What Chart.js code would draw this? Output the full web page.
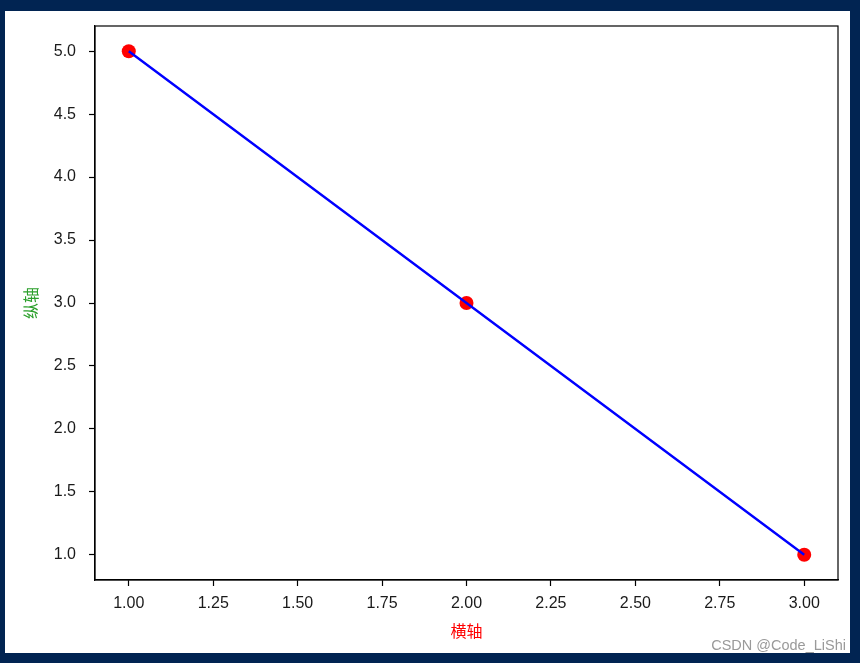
<!DOCTYPE html>
<html>
<head>
<meta charset="utf-8">
<script src="https://cdn.jsdelivr.net/npm/chart.js@4"></script>
<style>
  html, body { margin:0; padding:0; }
  body { width:860px; height:663px; background:#012452; position:relative; overflow:hidden; }
  #panel { position:absolute; left:5px; top:11px; width:845px; height:642px; background:#ffffff; }
  #wrap { position:absolute; left:0; top:0; width:860px; height:663px; }
  #mark { position:absolute; right:14px; top:637px; font-family:"Liberation Sans", Arial, sans-serif; font-size:14.5px; color:#9a9a9a; line-height:16px; }
</style>
</head>
<body>
<div id="panel"></div>
<div id="wrap"><canvas id="c" width="860" height="663"></canvas></div>
<div id="mark">CSDN @Code_LiShi</div>
<script>
const xValues = [1, 2, 3];
const yValues = [5, 3, 1];
const xTicks = [1.00, 1.25, 1.50, 1.75, 2.00, 2.25, 2.50, 2.75, 3.00];
const yTicks = [1.0, 1.5, 2.0, 2.5, 3.0, 3.5, 4.0, 4.5, 5.0];
const xTitle = '横轴';
const yTitle = '纵轴';

const points = xValues.map((x, i) => ({ x: x, y: yValues[i] }));

const frame = {
  id: 'frame',
  afterDatasetsDraw(chart) {
    const a = chart.chartArea, ctx = chart.ctx;
    ctx.save();
    ctx.strokeStyle = '#000';
    ctx.lineWidth = 1.2;
    ctx.strokeRect(a.left, a.top, a.right - a.left, a.bottom - a.top);
    ctx.restore();
  }
};

const tickFont = { family: '"Liberation Sans", Arial, sans-serif', size: 16 };

new Chart(document.getElementById('c'), {
  type: 'scatter',
  data: {
    datasets: [
      {
        type: 'line',
        data: points,
        borderColor: '#0000ff',
        borderWidth: 2.4,
        pointRadius: 0,
        fill: false,
        tension: 0,
        order: 0
      },
      {
        type: 'scatter',
        data: points,
        backgroundColor: '#ff0000',
        borderColor: '#ff0000',
        pointRadius: 7,
        borderWidth: 0,
        order: 1
      }
    ]
  },
  plugins: [frame],
  options: {
    responsive: false,
    animation: false,
    layout: { padding: { left: 10, right: 22, top: 26, bottom: 18 } },
    plugins: { legend: { display: false }, tooltip: { enabled: false } },
    scales: {
      x: {
        type: 'linear',
        min: 0.9, max: 3.1,
        afterBuildTicks: s => { s.ticks = xTicks.map(v => ({ value: v })); },
        afterFit: s => { s.height = 65; },
        grid: { drawOnChartArea: false, drawTicks: true, tickLength: 6, color: '#000', tickWidth: 1.2 },
        border: { display: true, color: '#000', width: 1.2 },
        ticks: { color: '#1a1a1a', font: tickFont, padding: 8, maxRotation: 0, autoSkip: false,
                 callback: v => Number(v).toFixed(2) },
        title: { display: true, text: xTitle, color: '#ff0000',
                 font: { family: '"Noto Sans CJK SC", sans-serif', size: 16 }, padding: { top: 0, bottom: 4 } }
      },
      y: {
        type: 'linear',
        min: 0.8, max: 5.2,
        afterBuildTicks: s => { s.ticks = yTicks.map(v => ({ value: v })); },
        afterFit: s => { s.width = 85; },
        grid: { drawOnChartArea: false, drawTicks: true, tickLength: 6, color: '#000', tickWidth: 1.2 },
        border: { display: true, color: '#000', width: 1.2 },
        ticks: { color: '#1a1a1a', font: tickFont, padding: 13, autoSkip: false,
                 callback: v => Number(v).toFixed(1) },
        title: { display: true, text: yTitle, color: '#2ca02c',
                 font: { family: '"Noto Sans CJK SC", sans-serif', size: 16 }, padding: { top: 11, bottom: 0 } }
      }
    }
  }
});
</script>
</body>
</html>
